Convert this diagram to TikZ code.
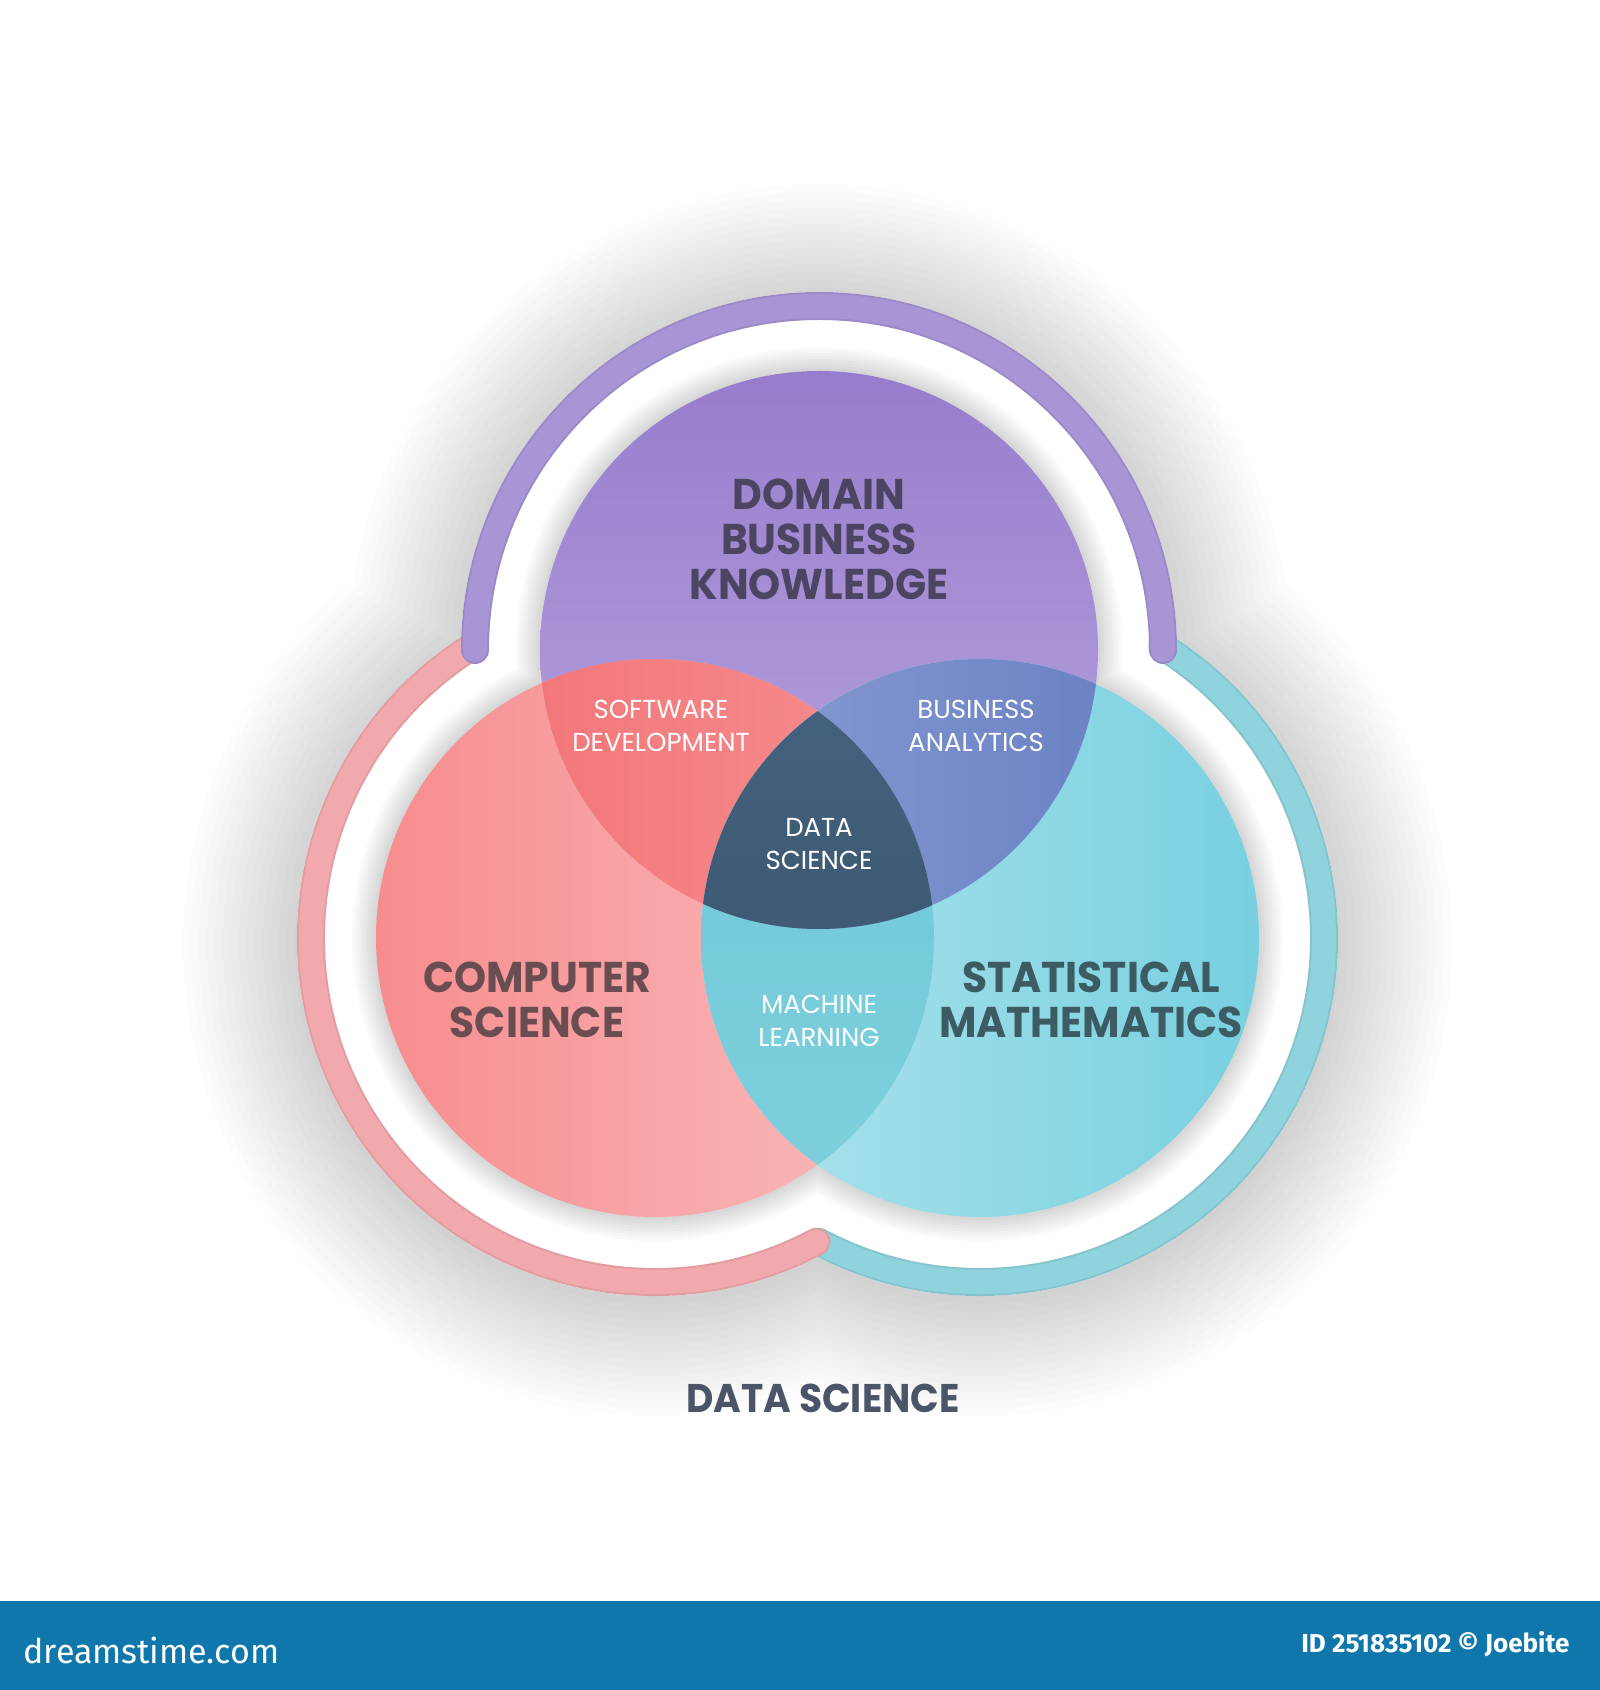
\documentclass[tikz,border=0pt]{standalone}
\usepackage{fontspec}
\setmainfont{Poppins}
\newfontfamily\footfont{Fira Sans}
\usetikzlibrary{positioning}

\definecolor{ringpurple}{HTML}{A895D6}
\definecolor{ringpink}{HTML}{F2A9AD}
\definecolor{ringcyan}{HTML}{8FD3DC}
\definecolor{purpleA}{HTML}{967DCD}
\definecolor{purpleB}{HTML}{BBA8DF}
\definecolor{pinkA}{HTML}{F78C8E}
\definecolor{pinkB}{HTML}{FABEC0}
\definecolor{cyanA}{HTML}{78D0E0}
\definecolor{cyanB}{HTML}{AFE4EC}
\definecolor{redA}{HTML}{F3777A}
\definecolor{redB}{HTML}{F79A9B}
\definecolor{blueA}{HTML}{8A9ED3}
\definecolor{blueB}{HTML}{5F77BE}
\definecolor{mlA}{HTML}{6CC7D7}
\definecolor{mlB}{HTML}{80D0DD}
\definecolor{coreA}{HTML}{44637F}
\definecolor{coreB}{HTML}{375069}
\definecolor{txtpurple}{HTML}{4D4462}
\definecolor{txtpink}{HTML}{6A4D50}
\definecolor{txtcyan}{HTML}{3D5B62}
\definecolor{txttitle}{HTML}{4A5568}
\definecolor{footblue}{HTML}{1077AD}

\begin{document}
\begin{tikzpicture}[x=1pt,y=1pt,
  ringline/.style={line width=28pt, line cap=round},
  bigtext/.style={font=\fontsize{43}{45}\selectfont\bfseries\addfontfeature{FakeStretch=0.95}, align=center},
  smalltext/.style={text=white, font=\fontsize{26}{33}\selectfont, align=center}]
\useasboundingbox (0,0) rectangle (1600,1690);
\fill[white] (0,0) rectangle (1600,1690);
\coordinate (ctop) at (819,1040);
\coordinate (cleft) at (655,752);
\coordinate (cright) at (980,752);

% soft shadow round the whole shape
\foreach \g in {1,...,15}
  \fill[black, opacity=0.010] ([yshift=-6pt]ctop) circle[radius=352+8*\g]
    ([yshift=-6pt]cleft) circle[radius=352+8*\g]
    ([yshift=-6pt]cright) circle[radius=352+8*\g];
\fill[white] (ctop) circle[radius=358] (cleft) circle[radius=358] (cright) circle[radius=358];

% coloured rings
\draw[ringline, ringcyan!93!black] ([shift={(58:344)}]cright) arc[start angle=58, end angle=-118, radius=344];
\draw[ringline, line width=24pt, ringcyan] ([shift={(58:344)}]cright) arc[start angle=58, end angle=-118, radius=344];
\draw[ringline, ringpink!93!black] ([shift={(122:344)}]cleft) arc[start angle=122, end angle=298, radius=344];
\draw[ringline, line width=24pt, ringpink] ([shift={(122:344)}]cleft) arc[start angle=122, end angle=298, radius=344];
\draw[ringline, ringpurple!93!black] ([shift={(180:344)}]ctop) arc[start angle=180, end angle=0, radius=344];
\draw[ringline, line width=24pt, ringpurple] ([shift={(180:344)}]ctop) arc[start angle=180, end angle=0, radius=344];

% shadow of the inner discs on the white band
\foreach \g in {1,...,8}
  \fill[black, opacity=0.02] (ctop) circle[radius=279+3*\g]
    (cleft) circle[radius=279+3*\g] (cright) circle[radius=279+3*\g];

% the three discs and their overlaps
\shade[top color=purpleA, bottom color=purpleB] (ctop) circle[radius=279];
\shade[left color=pinkA, right color=pinkB] (cleft) circle[radius=279];
\shade[left color=cyanB, right color=cyanA] (cright) circle[radius=279];
\begin{scope}
  \clip (cleft) circle[radius=279];
  \shade[left color=redA, right color=redB] (ctop) circle[radius=279];
  \shade[top color=mlA, bottom color=mlB] (cright) circle[radius=279];
\end{scope}
\begin{scope}
  \clip (ctop) circle[radius=279];
  \shade[left color=blueA, right color=blueB] (cright) circle[radius=279];
  \clip (cleft) circle[radius=279];
  \shade[top color=coreA, bottom color=coreB] (cright) circle[radius=279];
\end{scope}

% labels
\node[bigtext, text=txtpurple] (domain) at (819,1151) {DOMAIN\\BUSINESS\\KNOWLEDGE};
\node[bigtext, text=txtpink] (compsci) at (537,690) {COMPUTER\\SCIENCE};
\node[bigtext, text=txtcyan] (statmath) at (1091,690) {STATISTICAL\\MATHEMATICS};
\node[smalltext] (softdev) at (661,964) {SOFTWARE\\DEVELOPMENT};
\node[smalltext] (busan) at (976,964) {BUSINESS\\ANALYTICS};
\node[smalltext] (dsci) at (819,846) {DATA\\SCIENCE};
\node[smalltext] (mlearn) at (819,669) {MACHINE\\LEARNING};
\node[text=txttitle, font=\fontsize{40}{45}\selectfont\bfseries\addfontfeature{FakeStretch=0.94}] (title) at (823,292) {DATA SCIENCE};

% footer bar
\fill[footblue] (0,0) rectangle (1600,89);
\node[text=white, font=\footfont\fontsize{34}{36}\selectfont, anchor=west] (brand) at (20,40) {dreamstime.com};
\node[text=white, font=\footfont\fontsize{26}{30}\selectfont\bfseries, anchor=east] (imgid) at (1573,46) {ID 251835102 © Joebite};
\end{tikzpicture}
\end{document}
